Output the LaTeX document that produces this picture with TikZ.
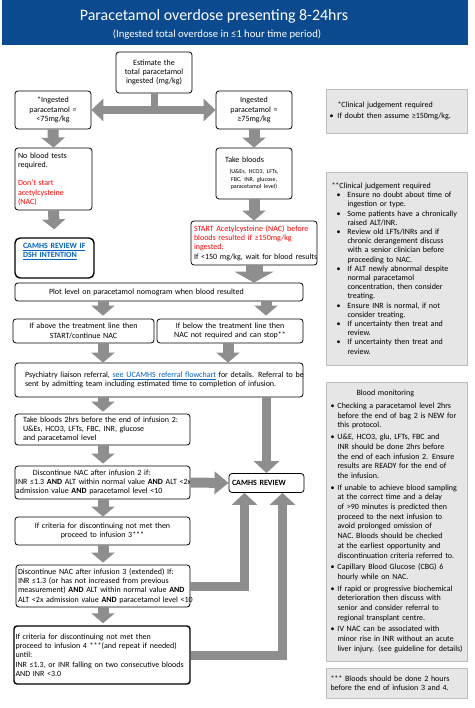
\documentclass[tikz,border=0pt]{standalone}
\usepackage{fontspec}
\setmainfont{Carlito}
\usetikzlibrary{arrows.meta}
\definecolor{bannerblue}{HTML}{0B4A8E}
\definecolor{arrowgrey}{HTML}{8E8E8E}
\definecolor{notegrey}{HTML}{E6E6E6}
\definecolor{noteline}{HTML}{BEBEBE}
\definecolor{warnred}{HTML}{FF0000}
\definecolor{linkblue}{HTML}{0563C1}
\newcommand{\boxfont}{\fontsize{8}{9.3}\selectfont}
\newcommand{\notefont}{\fontsize{8}{9.2}\selectfont}
\newcommand{\bul}[3]{\par\noindent\hangindent=\dimexpr#1+#2\relax\hangafter=1\hspace*{#1}\makebox[#2][l]{\textbullet}#3\par}

\begin{document}
\begin{tikzpicture}[x=1pt, y=-1pt,
    box/.style={draw, rounded corners=3pt, line width=0.8pt, fill=white, inner xsep=3pt, inner ysep=1pt, font=\boxfont},
    note/.style={draw=noteline, fill=notegrey, line width=0.8pt, inner xsep=1.5pt, inner ysep=1pt, font=\notefont, align=left, text width=138pt, minimum width=141pt},
    blockarrow/.style={arrowgrey, line width=11pt, -{Triangle[width=23pt, length=10pt]}},
    bigarrow/.style={arrowgrey, line width=17pt, -{Triangle[width=39pt, length=11pt]}},
    sidearrow/.style={arrowgrey, line width=8pt, -{Triangle[width=22pt, length=12pt]}},
    thinarrow/.style={arrowgrey, line width=9pt, -{Triangle[width=25pt, length=12pt]}}]
    \useasboundingbox (0,0) rectangle (474,708);
    \fill[bannerblue] (2,0) rectangle (468,45);
    \node[text=white, font=\fontsize{15.9}{18}\selectfont] (title) at (214,16) {Paracetamol overdose presenting 8-24hrs};
    \node[text=white, font=\fontsize{10.7}{12}\selectfont] (subtitle) at (217,35) {(Ingested total overdose in ≤1 hour time period)};

    \node[box, minimum width=76pt, minimum height=41pt, text width=70pt, align=center] (est) at (154,72.5) {Estimate the\\ total paracetamol\\ ingested (mg/kg)};
    \node[box, minimum width=76pt, minimum height=38pt, text width=70pt, align=center] (low) at (53,110) {*Ingested\\ paracetamol =\\ <75mg/kg};
    \node[box, minimum width=76pt, minimum height=38pt, text width=70pt, align=center] (high) at (254,110) {Ingested\\ paracetamol =\\ ≥75mg/kg};
    \node[box, minimum width=77pt, minimum height=62pt, text width=71pt, align=left] (noblood) at (53.5,179) {No blood tests\\ required.\\[9pt] \color{warnred}Don’t start\\ acetylcysteine\\ (NAC)};
    \node[box, minimum width=76pt, minimum height=51pt, text width=70pt, align=center] (takebl) at (254,173.5) {{\raggedright\hspace*{6pt}Take bloods\par}\vspace{3pt}{\fontsize{6}{7.6}\selectfont (U\&Es, HCO3, LFTs,\\ FBC, INR, glucose,\\ paracetamol level)\par}};
    \node[box, minimum width=126pt, minimum height=44pt, text width=120pt, align=left] (start) at (254,243) {\color{warnred}START Acetylcysteine (NAC) before\\ bloods resulted if ≥150mg/kg\\ ingested.\\ \color{black}\mbox{If <150 mg/kg, wait for blood results}};
    \node[box, line width=1.4pt, rounded corners=5pt, minimum width=79pt, minimum height=40pt, text width=73pt, align=left, text=linkblue, font=\boxfont\bfseries] (camhsif) at (54.5,258) {\hspace*{5pt}\underline{CAMHS REVIEW IF}\\ \hspace*{5pt}\underline{DSH INTENTION}\\[6pt]\mbox{}};
    \node[box, minimum width=288pt, minimum height=18pt, text width=282pt, align=left] (plot) at (159,292) {\hspace*{31pt}Plot level on paracetamol nomogram when blood resulted};
    \node[box, minimum width=141pt, minimum height=24pt, text width=135pt, align=center] (above) at (83.5,331) {If above the treatment line then\\ START/continue NAC};
    \node[box, minimum width=146pt, minimum height=24pt, text width=140pt, align=center] (below) at (230,331) {If below the treatment line then\\ NAC not required and can stop**};
    \node[box, minimum width=288pt, minimum height=34pt, text width=282pt, align=left] (psych) at (159,380) {\hspace*{7pt}\mbox{Psychiatry liaison referral, \textcolor{linkblue}{\underline{see UCAMHS referral flowchart}} for details. Referral to be}\\ \hspace*{7pt}\mbox{sent by admitting team including estimated time to completion of infusion.}};
    \node[box, minimum width=175pt, minimum height=31pt, text width=169pt, align=left] (take2) at (102.5,429.5) {\hspace*{5pt}Take bloods 2hrs before the end of infusion 2:\\ \hspace*{5pt}U\&Es, HCO3, LFTs, FBC, INR, glucose\\ \hspace*{5pt}and paracetamol level};
    \node[box, inner xsep=1pt, minimum width=175pt, minimum height=33pt, text width=173pt, align=left] (disc2) at (102.5,482.5) {\hspace*{17pt}Discontinue NAC after infusion 2 if:\\ \mbox{INR ≤1.3 \textbf{AND} ALT within normal value \textbf{AND} ALT <2x}\\ \mbox{admission value \textbf{AND} paracetamol level <10}};
    \node[box, minimum width=175pt, minimum height=28pt, text width=169pt, align=center] (crit3) at (102.5,531) {If criteria for discontinuing not met then\\ proceed to infusion 3***};
    \node[box, inner xsep=2pt, minimum width=174pt, minimum height=42pt, text width=170pt, align=left] (disc3) at (103,586) {\mbox{Discontinue NAC after infusion 3 (extended) If:}\\ \mbox{INR ≤1.3 (or has not increased from previous}\\ \mbox{measurement) \textbf{AND} ALT within normal value \textbf{AND}}\\ \mbox{ALT <2x admission value \textbf{AND} paracetamol level <10}};
    \node[box, line width=1.4pt, inner xsep=1.5pt, minimum width=176pt, minimum height=58pt, text width=173pt, align=left] (inf4) at (102,655) {If criteria for discontinuing not met then\\ \mbox{proceed to infusion 4 ***(and repeat if needed)}\\ until:\\ \mbox{INR ≤1.3, or INR falling on two consecutive bloods}\\ AND INR <3.0};
    \node[box, minimum width=75pt, minimum height=19pt, text width=69pt, align=left, font=\boxfont\bfseries] (camhs) at (266.5,483) {CAMHS REVIEW};

    \node[note, minimum height=44pt] (note1) at (396.5,111) {\hspace*{10pt}*Clinical judgement required\par\vspace{2pt}
        \bul{2pt}{8pt}{If doubt then assume ≥150mg/kg.}};
    \node[note, minimum height=193pt] (note2) at (396.5,268.5) {\hspace*{4pt}**Clinical judgement required\par
        \bul{9pt}{11pt}{Ensure no doubt about time of\newline ingestion or type.}
        \bul{9pt}{11pt}{\mbox{Some patients have a chronically}\newline raised ALT/INR.}
        \bul{9pt}{11pt}{Review old LFTs/INRs and if\newline chronic derangement discuss\newline with a senior clinician before\newline proceeding to NAC.}
        \bul{9pt}{11pt}{If ALT newly abnormal despite\newline normal paracetamol\newline concentration, then consider\newline treating.}
        \bul{9pt}{11pt}{Ensure INR is normal, if not\newline consider treating.}
        \bul{9pt}{11pt}{If uncertainty then treat and\newline review.}
        \bul{9pt}{11pt}{If uncertainty then treat and\newline review.}};
    \node[note, minimum height=279pt, font=\fontsize{8}{9.7}\selectfont] (note3) at (396.5,521.5) {\hspace*{29pt}Blood monitoring\par\vspace{3pt}
        \bul{3pt}{7pt}{Checking a paracetamol level 2hrs\newline before the end of bag 2 is NEW for\newline this protocol.}\vspace{2pt}
        \bul{3pt}{7pt}{U\&E, HCO3, glu, LFTs, FBC and\newline INR should be done 2hrs before\newline \mbox{the end of each infusion 2. Ensure}\newline results are READY for the end of\newline the infusion.}\vspace{2pt}
        \bul{3pt}{7pt}{\mbox{If unable to achieve blood sampling}\newline at the correct time and a delay\newline of >90 minutes is predicted then\newline proceed to the next infusion to\newline avoid prolonged omission of\newline NAC. Bloods should be checked\newline at the earliest opportunity and\newline \mbox{discontinuation criteria referred to.}}\vspace{2pt}
        \bul{3pt}{7pt}{Capillary Blood Glucose (CBG) 6\newline hourly while on NAC.}\vspace{2pt}
        \bul{3pt}{7pt}{\mbox{If rapid or progressive biochemical}\newline deterioration then discuss with\newline senior and consider referral to\newline regional transplant centre.}\vspace{2pt}
        \bul{3pt}{7pt}{IV NAC can be associated with\newline \mbox{minor rise in INR without an acute}\newline \mbox{liver injury. (see guideline for details)}}};
    \node[note, minimum height=30pt] (note4) at (396.5,683) {\hspace*{3pt}*** Bloods should be done 2 hours\newline \hspace*{3pt}before the end of infusion 3 and 4.};

    \coordinate (mid) at (154,110);
    \coordinate (lcol) at (103,0);
    \coordinate (rcol) at (266,0);
    \draw[arrowgrey, line width=7pt] (est.south) -- (mid);
    \draw[sidearrow] (mid) -- (low.east);
    \draw[sidearrow] (mid) -- (high.west);
    \draw[blockarrow] (low.south) -- (noblood.north);
    \draw[blockarrow] (high.south) -- (takebl.north);
    \draw[blockarrow] (takebl.south) -- (start.north);
    \draw[blockarrow, shorten >=8pt] (noblood.south) -- (camhsif.north);
    \draw[bigarrow] (start.south) -- (start.south |- plot.north);
    \draw[blockarrow, shorten >=3pt] (lcol |- plot.south) -- (lcol |- above.north);
    \draw[blockarrow, shorten >=3pt] (rcol |- plot.south) -- (rcol |- below.north);
    \draw[blockarrow] (lcol |- above.south) -- (lcol |- psych.north);
    \draw[blockarrow] ([xshift=-2pt]below.south) -- ([xshift=-2pt]below.south |- psych.north);
    \draw[blockarrow, shorten >=2pt] (lcol |- psych.south) -- (lcol |- take2.north);
    \draw[blockarrow, shorten >=2pt] (lcol |- take2.south) -- (lcol |- disc2.north);
    \draw[blockarrow] (lcol |- disc2.south) -- (lcol |- crit3.north);
    \draw[blockarrow, shorten >=2pt] (lcol |- crit3.south) -- (lcol |- disc3.north);
    \draw[blockarrow, shorten >=2pt] (lcol |- disc3.south) -- (lcol |- inf4.north);
    \draw[thinarrow] (camhs.north |- psych.south) -- (camhs.north);
    \draw[arrowgrey, line width=10pt, -{Triangle[width=22pt, length=14pt]}] (disc2.east) -- (camhs.west);
    \draw[thinarrow] (disc3.east) -| ([xshift=-22pt]camhs.south);
    \draw[thinarrow] (inf4.east) -| ([xshift=16pt]camhs.south);
\end{tikzpicture}
\end{document}
